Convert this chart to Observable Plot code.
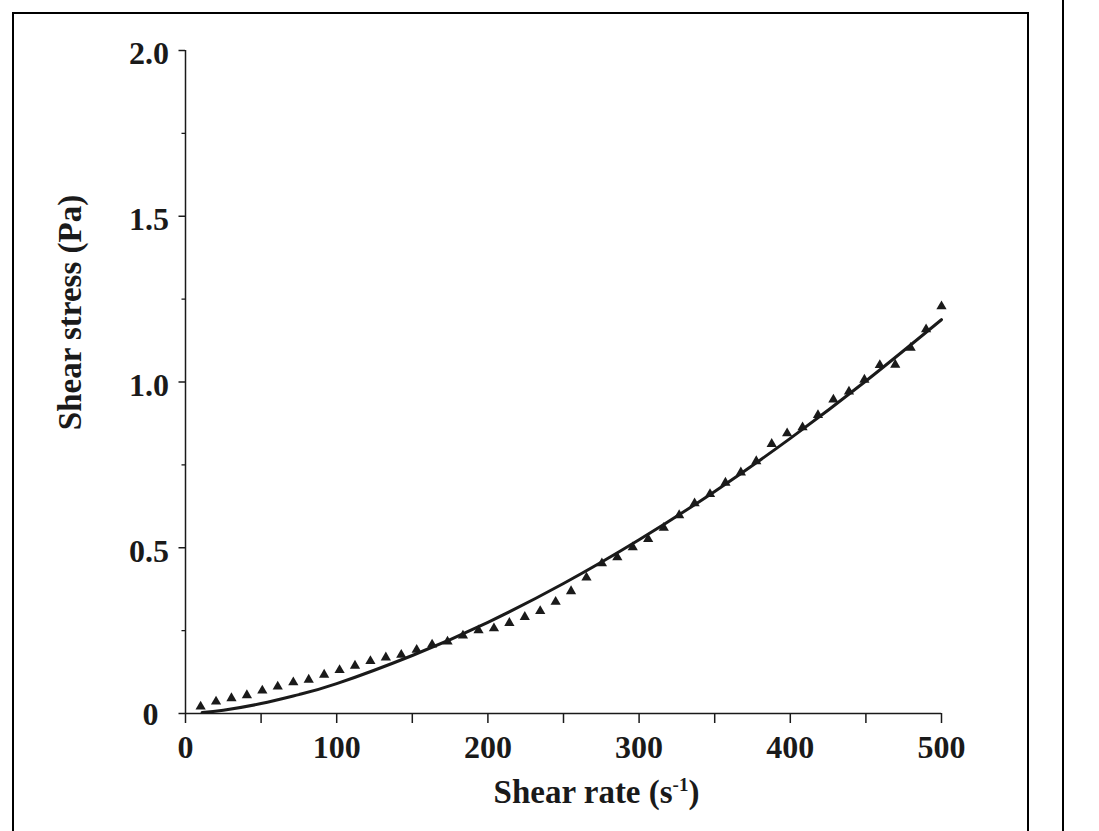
<!DOCTYPE html>
<html><head><meta charset="utf-8">
<script src="https://cdn.jsdelivr.net/npm/d3@7"></script>
<script src="https://cdn.jsdelivr.net/npm/@observablehq/plot@0.6"></script>
<style>
html,body{margin:0;padding:0;background:#fff;}
#wrap{position:relative;width:1099px;height:831px;overflow:hidden;background:#fff;}
#chart{position:absolute;left:0;top:0;}
#frame{position:absolute;left:12px;top:12px;width:1013px;height:900px;border:2px solid #000;pointer-events:none;}
#edge{position:absolute;left:1062px;top:0;width:2px;height:831px;background:#000;}
</style></head><body>
<div id="wrap"><div id="chart"></div><div id="frame"></div><div id="edge"></div></div>
<script>
// Measured data (triangles)
const shearRate = [10, 20.2, 30.4, 40.6, 50.8, 61.0, 71.3, 81.5, 91.7, 101.9, 112.1, 122.3, 132.5, 142.7, 152.9, 163.1, 173.3, 183.5, 193.8, 204.0, 214.2, 224.4, 234.6, 244.8, 255.0, 265.2, 275.4, 285.6, 295.8, 306.0, 316.3, 326.5, 336.7, 346.9, 357.1, 367.3, 377.5, 387.7, 397.9, 408.1, 418.3, 428.5, 438.8, 449.0, 459.2, 469.4, 479.6, 489.8, 500];
const shearStress = [0.021, 0.036, 0.046, 0.055, 0.069, 0.081, 0.094, 0.102, 0.117, 0.131, 0.144, 0.158, 0.169, 0.177, 0.192, 0.208, 0.217, 0.235, 0.251, 0.257, 0.273, 0.291, 0.309, 0.337, 0.369, 0.410, 0.453, 0.471, 0.501, 0.526, 0.560, 0.598, 0.634, 0.662, 0.696, 0.727, 0.761, 0.813, 0.845, 0.863, 0.900, 0.947, 0.971, 1.007, 1.051, 1.052, 1.103, 1.159, 1.228];
// Fitted curve
const fitRate = [11, 25, 50, 75, 100, 150, 200, 250, 300, 350, 400, 450, 500];
const fitStress = [0.003, 0.010, 0.030, 0.057, 0.090, 0.175, 0.275, 0.392, 0.524, 0.670, 0.830, 1.003, 1.188];
// Ticks
const xTickLabels = [0, 100, 200, 300, 400, 500];
const xTicksAll = [0, 50, 100, 150, 200, 250, 300, 350, 400, 450, 500];
const yTickLabels = [0.5, 1.0, 1.5, 2.0];
const yZeroLabel = [0];
const yMajorTicks = [0, 0.5, 1.0, 1.5, 2.0];
const yMinorTicks = [0.25, 0.75, 1.25, 1.75];
const xTitle = "Shear rate (s-1)";
const yTitle = "Shear stress (Pa)";

const ink = "#1a1a1a";
const points = shearRate.map((x, i) => ({x, y: shearStress[i]}));
const fit = fitRate.map((x, i) => ({x, y: fitStress[i]}));

const chart = Plot.plot({
  width: 1099, height: 831,
  marginLeft: 185, marginRight: 158, marginTop: 50, marginBottom: 118,
  style: {fontFamily: "'Liberation Serif', 'Times New Roman', serif", fontWeight: "bold", fontSize: "32px", color: ink, background: "transparent", overflow: "visible"},
  x: {domain: [0, 500]},
  y: {domain: [0, 2]},
  marks: [
    Plot.ruleX([0], {stroke: ink, strokeWidth: 1.5}),
    Plot.ruleY([0], {stroke: ink, strokeWidth: 1.5}),
    Plot.axisX(xTicksAll, {tickSize: 10, tickFormat: () => "", label: null, strokeWidth: 1.5}),
    Plot.axisY(yMajorTicks, {tickSize: 6.5, tickFormat: () => "", label: null, strokeWidth: 1.5}),
    Plot.axisY(yMinorTicks, {tickSize: 3.5, tickFormat: () => "", label: null, strokeWidth: 1.3}),
    Plot.text(xTickLabels, {x: d => d, text: d => String(d), frameAnchor: "bottom", lineAnchor: "bottom", dy: 44, fontSize: 32, fill: ink}),
    Plot.text(yTickLabels, {y: d => d, text: d => d.toFixed(1), frameAnchor: "left", textAnchor: "end", lineAnchor: "middle", dx: -16.5, dy: 3.5, fontSize: 32, fill: ink}),
    Plot.text(yZeroLabel, {y: d => d, text: d => String(d), frameAnchor: "left", textAnchor: "end", lineAnchor: "middle", dx: -27, dy: 1, fontSize: 32, fill: ink}),
    Plot.line(fit, {x: "x", y: "y", curve: "natural", stroke: ink, strokeWidth: 3}),
    Plot.dot(points, {x: "x", y: "y", symbol: "triangle", r: 3.8, fill: ink, stroke: "none"}),
    Plot.text([yTitle], {text: d => d, frameAnchor: "left", rotate: -90, textAnchor: "middle", lineAnchor: "bottom", dx: -105, dy: -69.5, fontSize: 33, fill: ink}),
    Plot.text([xTitle], {text: d => d, frameAnchor: "bottom", textAnchor: "middle", lineAnchor: "bottom", dx: 33, dy: 89, fontSize: 33, fill: ink})
  ]
});

d3.select(chart).selectAll("text").filter(function() { return this.textContent === xTitle; }).each(function() {
  const t = d3.select(this);
  t.text(null);
  t.append("tspan").text("Shear rate (s");
  t.append("tspan").attr("dy", -12).attr("font-size", 19).text("-1");
  t.append("tspan").attr("dy", 12).text(")");
});

document.getElementById("chart").appendChild(chart);
</script>
</body></html>
